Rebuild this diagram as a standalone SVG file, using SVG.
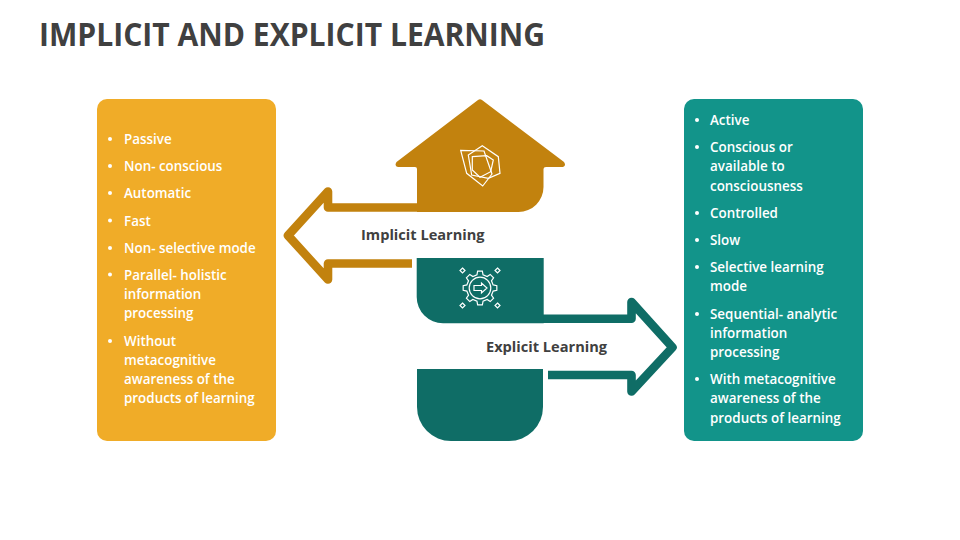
<svg xmlns="http://www.w3.org/2000/svg" width="960" height="540" viewBox="0 0 960 540">
<style>
text{font-family:"Open Sans","Liberation Sans",sans-serif}
.title{font-size:32px;font-weight:700;fill:#404040}
.lbl{font-size:14.6px;font-weight:700;fill:#404040}
.item{font-size:13.4px;font-weight:600;fill:#fff}
.ico{fill:none;stroke:#fff;stroke-width:1.2;stroke-linejoin:miter}
.gold{fill:#C2820E}.deep{fill:#0F6D66}
.arrow{fill:none;stroke-width:8.6;stroke-linejoin:round;stroke-linecap:butt}
</style>
<defs><g id="dia"><path class="ico" d="M0-2.500 L2.500 0 L0 2.500 L-2.500 0Z"/></g></defs>
<rect width="960" height="540" fill="#fff"/>
<text class="title" x="39" y="46" textLength="506" lengthAdjust="spacingAndGlyphs">IMPLICIT AND EXPLICIT LEARNING</text>
<g id="connectors">
<path class="arrow" stroke="#C2820E" d="M418 207.500H328V191.500L288 235.500L328 279.500V263.500H412"/>
<path class="arrow" stroke="#0F6D66" d="M530 318.700H631.500V302L672.500 347.300L631.500 391.500V375H548"/>
</g>
<g id="panel-implicit">
<rect x="97" y="99" width="179" height="342" rx="10" fill="#F0AC28"/>
<g fill="#fff"><circle cx="110" cy="139" r="2"/><circle cx="110" cy="166" r="2"/><circle cx="110" cy="193" r="2"/><circle cx="110" cy="220.500" r="2"/><circle cx="110" cy="248" r="2"/><circle cx="110" cy="274.500" r="2"/><circle cx="110" cy="341" r="2"/></g>
<text class="item" x="124" y="144">Passive</text>
<text class="item" x="124" y="171">Non- conscious</text>
<text class="item" x="124" y="198">Automatic</text>
<text class="item" x="124" y="226">Fast</text>
<text class="item" x="124" y="253">Non- selective mode</text>
<text class="item" x="124" y="280">Parallel- holistic</text>
<text class="item" x="124" y="299">information</text>
<text class="item" x="124" y="318">processing</text>
<text class="item" x="124" y="346">Without</text>
<text class="item" x="124" y="365">metacognitive</text>
<text class="item" x="124" y="384">awareness of the</text>
<text class="item" x="124" y="403">products of learning</text>
</g>
<g id="panel-explicit">
<rect x="684" y="99" width="179" height="342" rx="10" fill="#12948A"/>
<g fill="#fff"><circle cx="697" cy="120" r="2"/><circle cx="697" cy="147" r="2"/><circle cx="697" cy="213" r="2"/><circle cx="697" cy="240" r="2"/><circle cx="697" cy="267" r="2"/><circle cx="697" cy="314" r="2"/><circle cx="697" cy="379" r="2"/></g>
<text class="item" x="710" y="125">Active</text>
<text class="item" x="710" y="152">Conscious or</text>
<text class="item" x="710" y="171">available to</text>
<text class="item" x="710" y="191">consciousness</text>
<text class="item" x="710" y="218">Controlled</text>
<text class="item" x="710" y="245">Slow</text>
<text class="item" x="710" y="272">Selective learning</text>
<text class="item" x="710" y="291">mode</text>
<text class="item" x="710" y="319">Sequential- analytic</text>
<text class="item" x="710" y="338">information</text>
<text class="item" x="710" y="357">processing</text>
<text class="item" x="710" y="384">With metacognitive</text>
<text class="item" x="710" y="403">awareness of the</text>
<text class="item" x="710" y="423">products of learning</text>
</g>
<g id="house">
<path class="gold" d="M417 212V169Q417 167 415 167H398Q394 166 396.500 162L478 100Q480 98.500 482 100L564 162Q566.500 166 563 167H546Q543.500 167 543.500 169V187A25 25 0 0 1 518.500 212Z"/>
<polygon class="ico" points="460.700,150.300 484,151 492,174 482.700,186 466.700,173.300"/>
<polygon class="ico" points="482.300,145.700 498.300,156.700 500,173.300 488.300,178.300 471.700,175 468.300,155"/>
<polygon class="ico" points="472.300,156.700 486.700,155.700 493.300,160 490.700,171.700 480,177.300 472.300,170"/>
</g>
<g id="gear-block">
<path class="deep" d="M416.700 258H543.700V323.300H443A26.300 26.300 0 0 1 416.700 297Z"/>
<g transform="translate(480 288)">
<polygon class="ico" points="13.15,-3.04 16.83,-2.37 16.83,2.37 13.15,3.04 11.45,7.15 13.58,10.22 10.22,13.58 7.15,11.45 3.04,13.15 2.37,16.83 -2.37,16.83 -3.04,13.15 -7.15,11.45 -10.22,13.58 -13.58,10.22 -11.45,7.15 -13.15,3.04 -16.83,2.37 -16.83,-2.37 -13.15,-3.04 -11.45,-7.15 -13.58,-10.22 -10.22,-13.58 -7.15,-11.45 -3.04,-13.15 -2.37,-16.83 2.37,-16.83 3.04,-13.15 7.15,-11.45 10.22,-13.58 13.58,-10.22 11.45,-7.15"/>
<circle class="ico" r="10.800"/>
<path class="ico" d="M-6-2.500H1.500V-5L7 0L1.500 5V2.500H-6Z"/>
<use href="#dia" x="-17.500" y="-17.500"/><use href="#dia" x="17.500" y="-17.500"/><use href="#dia" x="-17.500" y="17.500"/><use href="#dia" x="17.500" y="17.500"/>
</g>
</g>
<g id="base-block">
<path class="deep" d="M417 369H543V407A34 34 0 0 1 509 441H451A34 34 0 0 1 417 407Z"/>
</g>
<text class="lbl" x="361" y="240">Implicit Learning</text>
<text class="lbl" x="486" y="352">Explicit Learning</text>
</svg>
